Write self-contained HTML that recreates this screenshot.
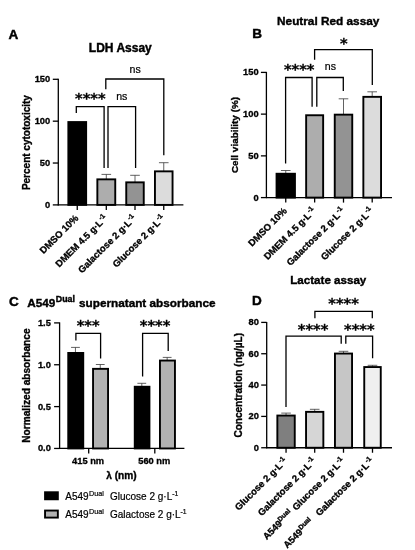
<!DOCTYPE html>
<html><head><meta charset="utf-8"><title>Figure</title>
<style>
html,body{margin:0;padding:0;background:#fff;}
svg{display:block;font-family:'Liberation Sans', Arial, Helvetica, sans-serif;}
svg text{fill:#000;}
</style></head><body>
<svg width="415" height="550" viewBox="0 0 415 550">
<rect x="0" y="0" width="415" height="550" fill="#fff"/>
<text x="8.60" y="38.80" font-size="13.5" font-weight="bold" text-anchor="start" stroke="#000" stroke-width="0.46">A</text>
<text x="120.30" y="51.50" font-size="12.0" font-weight="bold" text-anchor="middle" stroke="#000" stroke-width="0.41">LDH Assay</text>
<line x1="58.30" y1="78.80" x2="58.30" y2="205.40" stroke="#000" stroke-width="1.3"/>
<line x1="57.80" y1="204.90" x2="183.40" y2="204.90" stroke="#000" stroke-width="1.3"/>
<line x1="52.80" y1="204.90" x2="58.30" y2="204.90" stroke="#000" stroke-width="1.3"/>
<text x="50.20" y="207.90" font-size="9.3" font-weight="bold" text-anchor="end" stroke="#000" stroke-width="0.32">0</text>
<line x1="52.80" y1="163.03" x2="58.30" y2="163.03" stroke="#000" stroke-width="1.3"/>
<text x="50.20" y="166.03" font-size="9.3" font-weight="bold" text-anchor="end" stroke="#000" stroke-width="0.32">50</text>
<line x1="52.80" y1="121.17" x2="58.30" y2="121.17" stroke="#000" stroke-width="1.3"/>
<text x="50.20" y="124.17" font-size="9.3" font-weight="bold" text-anchor="end" stroke="#000" stroke-width="0.32">100</text>
<line x1="52.80" y1="79.30" x2="58.30" y2="79.30" stroke="#000" stroke-width="1.3"/>
<text x="50.20" y="82.30" font-size="9.3" font-weight="bold" text-anchor="end" stroke="#000" stroke-width="0.32">150</text>
<text x="29.80" y="142.60" font-size="10.0" font-weight="bold" text-anchor="middle" stroke="#000" stroke-width="0.34" transform="rotate(-90 29.80 142.60)">Percent cytotoxicity</text>
<rect x="68.35" y="122.05" width="17.80" height="82.85" fill="#000" stroke="#000" stroke-width="1.9"/>
<line x1="77.25" y1="204.90" x2="77.25" y2="209.90" stroke="#000" stroke-width="1.3"/>
<line x1="106.30" y1="179.00" x2="106.30" y2="174.40" stroke="#3a3a3a" stroke-width="0.8"/>
<line x1="101.50" y1="174.40" x2="111.10" y2="174.40" stroke="#3a3a3a" stroke-width="0.8"/>
<rect x="97.35" y="179.35" width="17.90" height="25.55" fill="#adadad" stroke="#000" stroke-width="1.9"/>
<line x1="106.30" y1="204.90" x2="106.30" y2="209.90" stroke="#000" stroke-width="1.3"/>
<line x1="135.00" y1="182.00" x2="135.00" y2="175.30" stroke="#3a3a3a" stroke-width="0.8"/>
<line x1="130.20" y1="175.30" x2="139.80" y2="175.30" stroke="#3a3a3a" stroke-width="0.8"/>
<rect x="126.25" y="182.35" width="17.50" height="22.55" fill="#939393" stroke="#000" stroke-width="1.9"/>
<line x1="135.00" y1="204.90" x2="135.00" y2="209.90" stroke="#000" stroke-width="1.3"/>
<line x1="163.75" y1="171.00" x2="163.75" y2="162.70" stroke="#3a3a3a" stroke-width="0.8"/>
<line x1="158.95" y1="162.70" x2="168.55" y2="162.70" stroke="#3a3a3a" stroke-width="0.8"/>
<rect x="154.95" y="171.35" width="17.60" height="33.55" fill="#dcdcdc" stroke="#000" stroke-width="1.9"/>
<line x1="163.75" y1="204.90" x2="163.75" y2="209.90" stroke="#000" stroke-width="1.3"/>
<text x="79.05" y="218.90" font-size="9.5" font-weight="bold" text-anchor="end" stroke="#000" stroke-width="0.32" transform="rotate(-45 79.05 218.90)">DMSO 10%</text>
<text x="108.10" y="218.90" font-size="9.5" font-weight="bold" text-anchor="end" stroke="#000" stroke-width="0.32" transform="rotate(-45 108.10 218.90)">DMEM 4.5 g·L<tspan font-size="6.84" dy="-3.80" dx="0.6">-1</tspan></text>
<text x="136.80" y="218.90" font-size="9.5" font-weight="bold" text-anchor="end" stroke="#000" stroke-width="0.32" transform="rotate(-45 136.80 218.90)">Galactose 2 g·L<tspan font-size="6.84" dy="-3.80" dx="0.6">-1</tspan></text>
<text x="165.55" y="218.90" font-size="9.5" font-weight="bold" text-anchor="end" stroke="#000" stroke-width="0.32" transform="rotate(-45 165.55 218.90)">Glucose 2 g·L<tspan font-size="6.84" dy="-3.80" dx="0.6">-1</tspan></text>
<path d="M76.30 113.00V106.60H104.10V168.00" fill="none" stroke="#000" stroke-width="1.3"/>
<path d="M108.00 168.00V106.60H135.60V168.00" fill="none" stroke="#000" stroke-width="1.3"/>
<path d="M105.80 89.20V79.00H163.80V155.30" fill="none" stroke="#000" stroke-width="1.3"/>
<text x="90.30" y="103.30" font-size="14.6" font-weight="bold" text-anchor="middle" stroke="#000" stroke-width="0.30" font-family="'DejaVu Sans', sans-serif">****</text>
<text x="121.80" y="100.20" font-size="10.6" font-weight="normal" text-anchor="middle" stroke="#000" stroke-width="0.21">ns</text>
<text x="135.20" y="72.60" font-size="10.6" font-weight="normal" text-anchor="middle" stroke="#000" stroke-width="0.21">ns</text>
<text x="252.20" y="38.20" font-size="13.5" font-weight="bold" text-anchor="start" stroke="#000" stroke-width="0.46">B</text>
<text x="328.20" y="24.60" font-size="11.8" font-weight="bold" text-anchor="middle" stroke="#000" stroke-width="0.40">Neutral Red assay</text>
<line x1="266.40" y1="71.90" x2="266.40" y2="198.10" stroke="#000" stroke-width="1.3"/>
<line x1="265.90" y1="197.60" x2="392.00" y2="197.60" stroke="#000" stroke-width="1.3"/>
<line x1="260.90" y1="197.60" x2="266.40" y2="197.60" stroke="#000" stroke-width="1.3"/>
<text x="258.60" y="200.60" font-size="9.3" font-weight="bold" text-anchor="end" stroke="#000" stroke-width="0.32">0</text>
<line x1="260.90" y1="155.87" x2="266.40" y2="155.87" stroke="#000" stroke-width="1.3"/>
<text x="258.60" y="158.87" font-size="9.3" font-weight="bold" text-anchor="end" stroke="#000" stroke-width="0.32">50</text>
<line x1="260.90" y1="114.13" x2="266.40" y2="114.13" stroke="#000" stroke-width="1.3"/>
<text x="258.60" y="117.13" font-size="9.3" font-weight="bold" text-anchor="end" stroke="#000" stroke-width="0.32">100</text>
<line x1="260.90" y1="72.40" x2="266.40" y2="72.40" stroke="#000" stroke-width="1.3"/>
<text x="258.60" y="75.40" font-size="9.3" font-weight="bold" text-anchor="end" stroke="#000" stroke-width="0.32">150</text>
<text x="238.40" y="135.00" font-size="9.95" font-weight="bold" text-anchor="middle" stroke="#000" stroke-width="0.34" transform="rotate(-90 238.40 135.00)">Cell viability (%)</text>
<line x1="285.75" y1="173.40" x2="285.75" y2="170.50" stroke="#3a3a3a" stroke-width="0.8"/>
<line x1="280.95" y1="170.50" x2="290.55" y2="170.50" stroke="#3a3a3a" stroke-width="0.8"/>
<rect x="276.55" y="173.75" width="18.40" height="23.85" fill="#000" stroke="#000" stroke-width="1.9"/>
<line x1="285.75" y1="197.60" x2="285.75" y2="202.60" stroke="#000" stroke-width="1.3"/>
<rect x="306.15" y="115.25" width="17.00" height="82.35" fill="#adadad" stroke="#000" stroke-width="1.9"/>
<line x1="314.65" y1="197.60" x2="314.65" y2="202.60" stroke="#000" stroke-width="1.3"/>
<line x1="343.50" y1="114.30" x2="343.50" y2="98.80" stroke="#3a3a3a" stroke-width="0.8"/>
<line x1="338.70" y1="98.80" x2="348.30" y2="98.80" stroke="#3a3a3a" stroke-width="0.8"/>
<rect x="334.75" y="114.65" width="17.50" height="82.95" fill="#939393" stroke="#000" stroke-width="1.9"/>
<line x1="343.50" y1="197.60" x2="343.50" y2="202.60" stroke="#000" stroke-width="1.3"/>
<line x1="372.20" y1="96.50" x2="372.20" y2="91.80" stroke="#3a3a3a" stroke-width="0.8"/>
<line x1="367.40" y1="91.80" x2="377.00" y2="91.80" stroke="#3a3a3a" stroke-width="0.8"/>
<rect x="363.35" y="96.85" width="17.70" height="100.75" fill="#dcdcdc" stroke="#000" stroke-width="1.9"/>
<line x1="372.20" y1="197.60" x2="372.20" y2="202.60" stroke="#000" stroke-width="1.3"/>
<text x="287.55" y="211.60" font-size="9.5" font-weight="bold" text-anchor="end" stroke="#000" stroke-width="0.32" transform="rotate(-45 287.55 211.60)">DMSO 10%</text>
<text x="316.45" y="211.60" font-size="9.5" font-weight="bold" text-anchor="end" stroke="#000" stroke-width="0.32" transform="rotate(-45 316.45 211.60)">DMEM 4.5 g·L<tspan font-size="6.84" dy="-3.80" dx="0.6">-1</tspan></text>
<text x="345.30" y="211.60" font-size="9.5" font-weight="bold" text-anchor="end" stroke="#000" stroke-width="0.32" transform="rotate(-45 345.30 211.60)">Galactose 2 g·L<tspan font-size="6.84" dy="-3.80" dx="0.6">-1</tspan></text>
<text x="374.00" y="211.60" font-size="9.5" font-weight="bold" text-anchor="end" stroke="#000" stroke-width="0.32" transform="rotate(-45 374.00 211.60)">Glucose 2 g·L<tspan font-size="6.84" dy="-3.80" dx="0.6">-1</tspan></text>
<path d="M285.60 163.50V77.50H312.10V106.80" fill="none" stroke="#000" stroke-width="1.3"/>
<path d="M316.80 106.80V77.50H343.30V91.00" fill="none" stroke="#000" stroke-width="1.3"/>
<path d="M314.60 59.80V49.60H372.30V85.00" fill="none" stroke="#000" stroke-width="1.3"/>
<text x="299.20" y="74.20" font-size="14.6" font-weight="bold" text-anchor="middle" stroke="#000" stroke-width="0.30" font-family="'DejaVu Sans', sans-serif">****</text>
<text x="330.40" y="70.10" font-size="10.6" font-weight="normal" text-anchor="middle" stroke="#000" stroke-width="0.21">ns</text>
<text x="343.90" y="47.70" font-size="14.6" font-weight="bold" text-anchor="middle" stroke="#000" stroke-width="0.30" font-family="'DejaVu Sans', sans-serif">*</text>
<text x="9.00" y="305.90" font-size="13.5" font-weight="bold" text-anchor="start" stroke="#000" stroke-width="0.46">C</text>
<text x="27.30" y="306.70" font-size="11.75" font-weight="bold" text-anchor="start" stroke="#000" stroke-width="0.40">A549<tspan font-size="8.8" dy="-4.6" dx="0.4">Dual</tspan><tspan dy="4.6" dx="0.9"> supernatant absorbance</tspan></text>
<line x1="59.60" y1="322.40" x2="59.60" y2="448.95" stroke="#000" stroke-width="1.3"/>
<line x1="59.10" y1="448.45" x2="184.40" y2="448.45" stroke="#000" stroke-width="1.3"/>
<line x1="54.10" y1="448.45" x2="59.60" y2="448.45" stroke="#000" stroke-width="1.3"/>
<text x="50.90" y="451.45" font-size="9.3" font-weight="bold" text-anchor="end" stroke="#000" stroke-width="0.32">0.0</text>
<line x1="54.10" y1="406.60" x2="59.60" y2="406.60" stroke="#000" stroke-width="1.3"/>
<text x="50.90" y="409.60" font-size="9.3" font-weight="bold" text-anchor="end" stroke="#000" stroke-width="0.32">0.5</text>
<line x1="54.10" y1="364.75" x2="59.60" y2="364.75" stroke="#000" stroke-width="1.3"/>
<text x="50.90" y="367.75" font-size="9.3" font-weight="bold" text-anchor="end" stroke="#000" stroke-width="0.32">1.0</text>
<line x1="54.10" y1="322.90" x2="59.60" y2="322.90" stroke="#000" stroke-width="1.3"/>
<text x="50.90" y="325.90" font-size="9.3" font-weight="bold" text-anchor="end" stroke="#000" stroke-width="0.32">1.5</text>
<text x="30.30" y="385.60" font-size="10.15" font-weight="bold" text-anchor="middle" stroke="#000" stroke-width="0.35" transform="rotate(-90 30.30 385.60)">Normalized absorbance</text>
<line x1="75.45" y1="352.60" x2="75.45" y2="347.40" stroke="#3a3a3a" stroke-width="0.8"/>
<line x1="71.05" y1="347.40" x2="79.85" y2="347.40" stroke="#3a3a3a" stroke-width="0.8"/>
<rect x="68.25" y="352.95" width="15.00" height="95.50" fill="#000" stroke="#000" stroke-width="1.9"/>
<line x1="100.25" y1="368.50" x2="100.25" y2="364.50" stroke="#3a3a3a" stroke-width="0.8"/>
<line x1="95.85" y1="364.50" x2="104.65" y2="364.50" stroke="#3a3a3a" stroke-width="0.8"/>
<rect x="93.05" y="368.85" width="15.00" height="79.60" fill="#b2b2b2" stroke="#000" stroke-width="1.9"/>
<line x1="141.80" y1="386.40" x2="141.80" y2="383.30" stroke="#3a3a3a" stroke-width="0.8"/>
<line x1="137.40" y1="383.30" x2="146.20" y2="383.30" stroke="#3a3a3a" stroke-width="0.8"/>
<rect x="134.75" y="386.75" width="14.70" height="61.70" fill="#000" stroke="#000" stroke-width="1.9"/>
<line x1="167.15" y1="360.20" x2="167.15" y2="357.40" stroke="#3a3a3a" stroke-width="0.8"/>
<line x1="162.75" y1="357.40" x2="171.55" y2="357.40" stroke="#3a3a3a" stroke-width="0.8"/>
<rect x="159.95" y="360.55" width="15.00" height="87.90" fill="#b2b2b2" stroke="#000" stroke-width="1.9"/>
<line x1="88.70" y1="448.45" x2="88.70" y2="453.45" stroke="#000" stroke-width="1.3"/>
<line x1="154.80" y1="448.45" x2="154.80" y2="453.45" stroke="#000" stroke-width="1.3"/>
<text x="88.10" y="464.30" font-size="9.3" font-weight="bold" text-anchor="middle" stroke="#000" stroke-width="0.32">415 nm</text>
<text x="154.30" y="464.30" font-size="9.3" font-weight="bold" text-anchor="middle" stroke="#000" stroke-width="0.32">560 nm</text>
<text x="121.40" y="479.20" font-size="10.15" font-weight="bold" text-anchor="middle" stroke="#000" stroke-width="0.35">λ (nm)</text>
<path d="M75.90 340.40V333.40H100.60V358.40" fill="none" stroke="#000" stroke-width="1.3"/>
<path d="M142.60 376.50V333.40H168.20V351.00" fill="none" stroke="#000" stroke-width="1.3"/>
<text x="88.20" y="330.30" font-size="14.6" font-weight="bold" text-anchor="middle" stroke="#000" stroke-width="0.30" font-family="'DejaVu Sans', sans-serif">***</text>
<text x="155.10" y="330.30" font-size="14.6" font-weight="bold" text-anchor="middle" stroke="#000" stroke-width="0.30" font-family="'DejaVu Sans', sans-serif">****</text>
<rect x="45.05" y="492.25" width="12.80" height="7.05" fill="#000" stroke="#000" stroke-width="1.9"/>
<rect x="45.05" y="510.55" width="12.80" height="7.05" fill="#b2b2b2" stroke="#000" stroke-width="1.9"/>
<text x="65.30" y="500.20" font-size="10" font-weight="normal" text-anchor="start" stroke="#000" stroke-width="0.20">A549<tspan font-size="7.2" dy="-4.3" dx="0.4">Dual</tspan></text>
<text x="110.00" y="500.20" font-size="10" font-weight="normal" text-anchor="start" stroke="#000" stroke-width="0.20">Glucose 2 g·L<tspan font-size="6.8" dy="-4.3">-1</tspan></text>
<text x="65.30" y="518.30" font-size="10" font-weight="normal" text-anchor="start" stroke="#000" stroke-width="0.20">A549<tspan font-size="7.2" dy="-4.3" dx="0.4">Dual</tspan></text>
<text x="110.00" y="518.30" font-size="10" font-weight="normal" text-anchor="start" stroke="#000" stroke-width="0.20">Galactose 2 g·L<tspan font-size="6.8" dy="-4.3">-1</tspan></text>
<text x="252.10" y="305.10" font-size="13.5" font-weight="bold" text-anchor="start" stroke="#000" stroke-width="0.46">D</text>
<text x="328.30" y="284.10" font-size="11.6" font-weight="bold" text-anchor="middle" stroke="#000" stroke-width="0.39">Lactate assay</text>
<line x1="266.70" y1="321.90" x2="266.70" y2="448.25" stroke="#000" stroke-width="1.3"/>
<line x1="266.20" y1="447.75" x2="392.00" y2="447.75" stroke="#000" stroke-width="1.3"/>
<line x1="261.20" y1="447.75" x2="266.70" y2="447.75" stroke="#000" stroke-width="1.3"/>
<text x="258.90" y="450.75" font-size="9.3" font-weight="bold" text-anchor="end" stroke="#000" stroke-width="0.32">0</text>
<line x1="261.20" y1="416.41" x2="266.70" y2="416.41" stroke="#000" stroke-width="1.3"/>
<text x="258.90" y="419.41" font-size="9.3" font-weight="bold" text-anchor="end" stroke="#000" stroke-width="0.32">20</text>
<line x1="261.20" y1="385.07" x2="266.70" y2="385.07" stroke="#000" stroke-width="1.3"/>
<text x="258.90" y="388.07" font-size="9.3" font-weight="bold" text-anchor="end" stroke="#000" stroke-width="0.32">40</text>
<line x1="261.20" y1="353.74" x2="266.70" y2="353.74" stroke="#000" stroke-width="1.3"/>
<text x="258.90" y="356.74" font-size="9.3" font-weight="bold" text-anchor="end" stroke="#000" stroke-width="0.32">60</text>
<line x1="261.20" y1="322.40" x2="266.70" y2="322.40" stroke="#000" stroke-width="1.3"/>
<text x="258.90" y="325.40" font-size="9.3" font-weight="bold" text-anchor="end" stroke="#000" stroke-width="0.32">80</text>
<text x="242.00" y="385.30" font-size="10.05" font-weight="bold" text-anchor="middle" stroke="#000" stroke-width="0.34" transform="rotate(-90 242.00 385.30)">Concentration (ng/µL)</text>
<line x1="286.05" y1="415.20" x2="286.05" y2="413.10" stroke="#3a3a3a" stroke-width="0.8"/>
<line x1="281.25" y1="413.10" x2="290.85" y2="413.10" stroke="#3a3a3a" stroke-width="0.8"/>
<rect x="277.35" y="415.55" width="17.40" height="32.20" fill="#7f7f7f" stroke="#000" stroke-width="1.9"/>
<line x1="286.05" y1="447.75" x2="286.05" y2="452.75" stroke="#000" stroke-width="1.3"/>
<line x1="314.70" y1="411.50" x2="314.70" y2="409.30" stroke="#3a3a3a" stroke-width="0.8"/>
<line x1="309.90" y1="409.30" x2="319.50" y2="409.30" stroke="#3a3a3a" stroke-width="0.8"/>
<rect x="306.05" y="411.85" width="17.30" height="35.90" fill="#d6d6d6" stroke="#000" stroke-width="1.9"/>
<line x1="314.70" y1="447.75" x2="314.70" y2="452.75" stroke="#000" stroke-width="1.3"/>
<line x1="343.50" y1="353.20" x2="343.50" y2="351.30" stroke="#3a3a3a" stroke-width="0.8"/>
<line x1="338.70" y1="351.30" x2="348.30" y2="351.30" stroke="#3a3a3a" stroke-width="0.8"/>
<rect x="334.95" y="353.55" width="17.10" height="94.20" fill="#c6c6c6" stroke="#000" stroke-width="1.9"/>
<line x1="343.50" y1="447.75" x2="343.50" y2="452.75" stroke="#000" stroke-width="1.3"/>
<line x1="372.50" y1="366.70" x2="372.50" y2="365.30" stroke="#3a3a3a" stroke-width="0.8"/>
<line x1="367.70" y1="365.30" x2="377.30" y2="365.30" stroke="#3a3a3a" stroke-width="0.8"/>
<rect x="364.25" y="367.05" width="16.50" height="80.70" fill="#efefef" stroke="#000" stroke-width="1.9"/>
<line x1="372.50" y1="447.75" x2="372.50" y2="452.75" stroke="#000" stroke-width="1.3"/>
<text x="287.85" y="461.75" font-size="9.5" font-weight="bold" text-anchor="end" stroke="#000" stroke-width="0.32" transform="rotate(-45 287.85 461.75)">Glucose 2 g·L<tspan font-size="6.84" dy="-3.80" dx="0.6">-1</tspan></text>
<text x="316.50" y="461.75" font-size="9.5" font-weight="bold" text-anchor="end" stroke="#000" stroke-width="0.32" transform="rotate(-45 316.50 461.75)">Galactose 2 g·L<tspan font-size="6.84" dy="-3.80" dx="0.6">-1</tspan></text>
<text x="345.30" y="461.75" font-size="9.5" font-weight="bold" text-anchor="end" stroke="#000" stroke-width="0.32" transform="rotate(-45 345.30 461.75)">A549<tspan font-size="6.84" dy="-3.42">Dual</tspan><tspan dy="3.42" dx="1.5"> </tspan>Glucose 2 g·L<tspan font-size="6.84" dy="-3.80" dx="0.6">-1</tspan></text>
<text x="374.30" y="461.75" font-size="9.5" font-weight="bold" text-anchor="end" stroke="#000" stroke-width="0.32" transform="rotate(-45 374.30 461.75)">A549<tspan font-size="6.84" dy="-3.42">Dual</tspan><tspan dy="3.42" dx="5.5"> </tspan> Galactose 2 g·L<tspan font-size="6.84" dy="-3.80" dx="0.6">-1</tspan></text>
<path d="M314.90 318.30V311.30H372.30V318.30" fill="none" stroke="#000" stroke-width="1.3"/>
<path d="M286.00 407.00V336.20H341.20V343.80" fill="none" stroke="#000" stroke-width="1.3"/>
<path d="M345.80 343.80V336.20H372.60V358.30" fill="none" stroke="#000" stroke-width="1.3"/>
<text x="343.60" y="308.30" font-size="14.6" font-weight="bold" text-anchor="middle" stroke="#000" stroke-width="0.30" font-family="'DejaVu Sans', sans-serif">****</text>
<text x="313.10" y="333.60" font-size="14.6" font-weight="bold" text-anchor="middle" stroke="#000" stroke-width="0.30" font-family="'DejaVu Sans', sans-serif">****</text>
<text x="359.30" y="333.60" font-size="14.6" font-weight="bold" text-anchor="middle" stroke="#000" stroke-width="0.30" font-family="'DejaVu Sans', sans-serif">****</text>
</svg>
</body></html>
